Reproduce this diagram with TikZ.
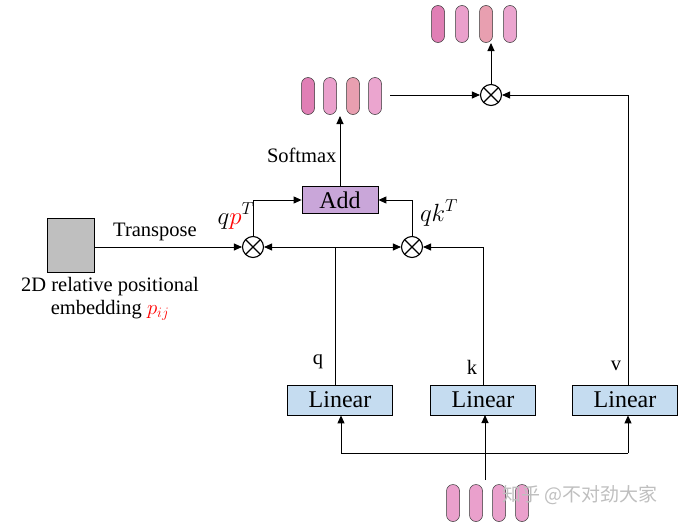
\documentclass[tikz,border=0pt]{standalone}
\usepackage{fontspec}
\setmainfont{Liberation Serif}
\newfontfamily\cjk{Noto Sans CJK SC}
\usetikzlibrary{arrows.meta}
\begin{document}
\begin{tikzpicture}[x=1pt,y=-1pt,
  every node/.style={font=\fontsize{20.5}{23}\selectfont},
  pill/.style={draw=black!80,line width=0.5pt,rounded corners=6.5pt,minimum width=13pt,minimum height=37pt,inner sep=0pt},
  lin/.style={draw,line width=0.8pt,fill={rgb,255:red,197;green,220;blue,240},minimum width=105pt,minimum height=30pt,inner sep=0pt,font=\fontsize{24}{26}\selectfont},
  otimes/.style={draw,line width=1.1pt,circle,minimum size=21pt,inner sep=0pt,path picture={\draw[line width=1.1pt] (path picture bounding box.north west)--(path picture bounding box.south east) (path picture bounding box.north east)--(path picture bounding box.south west);}},
  ar/.style={-{Triangle[length=8pt,width=7pt]},line width=0.9pt},
  ln/.style={line width=0.9pt}]
\useasboundingbox (0,0) rectangle (680,525);
\definecolor{pA}{RGB}{224,127,181}
\definecolor{pB}{RGB}{234,160,204}
\definecolor{pC}{RGB}{232,159,176}
\definecolor{pD}{RGB}{235,165,207}
% top output pills
\node[pill,fill=pA] (t1) at (438,24) {};
\node[pill,fill=pB] (t2) at (462,24) {};
\node[pill,fill=pC] (t3) at (486,24) {};
\node[pill,fill=pD] (t4) at (510,24) {};
% softmax pills
\node[pill,fill=pA] (s1) at (308,96) {};
\node[pill,fill=pB] (s2) at (330,96) {};
\node[pill,fill=pC] (s3) at (353,96) {};
\node[pill,fill=pD] (s4) at (375,96) {};
% bottom pills
\node[pill,fill=pB] (b1) at (453,503) {};
\node[pill,fill=pB] (b2) at (476,503) {};
\node[pill,fill=pB] (b3) at (499,503) {};
\node[pill,fill=pB] (b4) at (522,503) {};
\node[text=black!25,font=\cjk\fontsize{19}{21}\selectfont] (wm) at (580,495) {知乎 @不对劲大家};
% output multiply
\node[otimes] (mo) at (491,95) {};
\draw[ar] (mo.north) -- (491,43);
\coordinate (sr) at (390,95);
\draw[ar] (sr) -- (mo.west);
% Add
\node[draw,line width=0.8pt,fill={rgb,255:red,201;green,166;blue,217},minimum width=76pt,minimum height=27pt,inner sep=0pt,font=\fontsize{24}{26}\selectfont] (add) at (340,200) {Add};
\draw[ar] (add.north) -- (340,116);
\node[anchor=east] (sm) at (340,155) {Softmax};
% multiplies
\node[otimes] (m1) at (253,247) {};
\node[otimes] (m2) at (412,247) {};
\draw[ar] (m1.north) |- (add.west);
\draw[ar] (m2.north) |- (add.east);
\node[font=\fontsize{24}{26}\selectfont] (qp) at (236,216) {$q{\color{red}p}^{T}$};
\node[font=\fontsize{24}{26}\selectfont] (qk) at (439,213) {$qk^{T}$};
% Linear boxes
\node[lin] (lq) at (340,400) {Linear};
\node[lin] (lk) at (483,400) {Linear};
\node[lin] (lv) at (625,400) {Linear};
\node (lbq) at (318,362) {q};
\node (lbk) at (472,367) {k};
\node (lbv) at (616,366) {v};
% q path
\coordinate (qj) at (335,247);
\draw[ln] (qj) -- (qj |- lq.north);
\draw[{Triangle[length=8pt,width=7pt]}-{Triangle[length=8pt,width=7pt]},line width=0.9pt] (m1.east) -- (m2.west);
% k path
\coordinate (kj) at (483,247);
\draw[ln] (lk.north) -- (kj);
\draw[ar] (kj) -- (m2.east);
% v path
\coordinate (vj) at (628,95);
\draw[ln] (vj |- lv.north) -- (vj);
\draw[ar] (vj) -- (mo.east);
% transpose
\node[draw,fill=black!25,minimum width=47pt,minimum height=54pt,inner sep=0pt] (pe) at (71,245) {};
\draw[ar] (95,247) -- (m1.west);
\node (tr) at (155,232) {Transpose};
\node[align=center,anchor=north,inner sep=1pt] (lbl) at (110,276) {2D relative positional\\embedding ${\color{red}p_{ij}}$};
% bottom distribution
\coordinate (bl) at (341,453);
\coordinate (br) at (628,453);
\draw[ln] (bl) -- (br);
\draw[ar] (485,480) -- (485,415);
\draw[ar] (bl) -- (bl |- lq.south);
\draw[ar] (br) -- (br |- lv.south);
\end{tikzpicture}
\end{document}
